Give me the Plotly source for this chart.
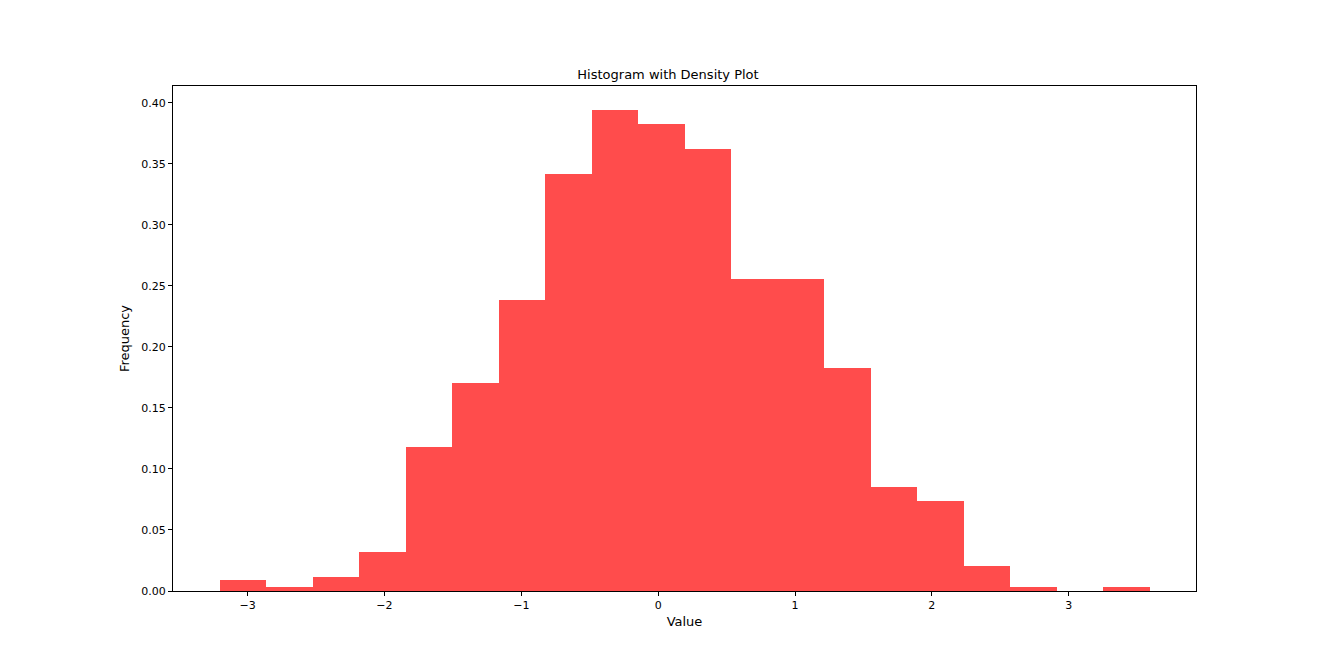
import plotly.graph_objects as go

bin_start = -3.205
bin_width = 0.3398
counts = [3, 1, 4, 11, 40, 58, 81, 116, 134, 130, 123, 87, 87, 62, 29, 25, 7, 1, 0, 1]
n_total = sum(counts)
density = [c / (n_total * bin_width) for c in counts]
centers = [bin_start + bin_width * (i + 0.5) for i in range(len(counts))]

fig = go.Figure(go.Bar(x=centers, y=density, width=bin_width,
                       marker=dict(color="rgba(255,0,0,0.7)", line=dict(width=0))))
ax = dict(showline=True, linecolor="black", linewidth=1, mirror=True, ticks="outside",
          ticklen=4, tickcolor="black", showgrid=False, zeroline=False)
fig.update_layout(
    width=1320, height=655, plot_bgcolor="white", paper_bgcolor="white",
    margin=dict(l=165, r=132, t=78, b=72),
    font=dict(family="DejaVu Sans", size=11, color="black"),
    title=dict(text="Histogram with Density Plot", x=0.5, xanchor="center", y=0.899, yanchor="middle", font=dict(size=13)),
    xaxis=dict(ax, title=dict(text="Value", standoff=5), range=[-3.545, 3.93], tickvals=[-3,-2,-1,0,1,2,3],
               ticktext=["−3","−2","−1","0","1","2","3"]),
    yaxis=dict(ax, title=dict(text="Frequency", standoff=8), range=[0, 0.4139], tickformat=".2f", dtick=0.05),
    bargap=0, showlegend=False,
)
fig.write_html("out.html")
